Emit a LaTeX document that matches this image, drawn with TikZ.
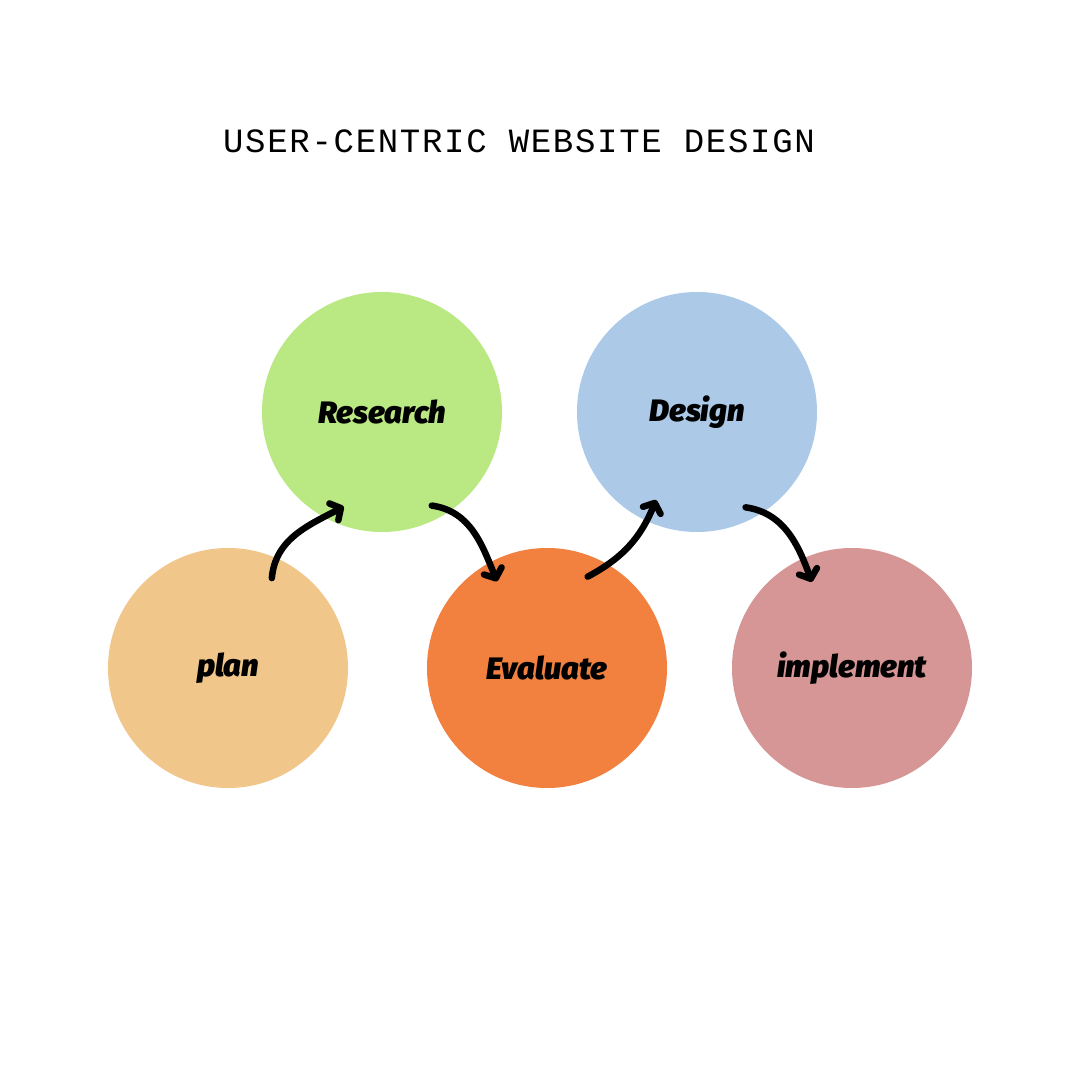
\documentclass[tikz,border=0pt]{standalone}
\usepackage{fontspec}
\setmainfont{Fira Sans}
\newfontfamily\titlefont{Liberation Mono}
\newfontfamily\labelfont{Fira Sans Black Italic}
\usepackage{tikz}
\usetikzlibrary{positioning, arrows.meta, calc}

\definecolor{planC}{HTML}{F0C68A}
\definecolor{researchC}{HTML}{BAE882}
\definecolor{evaluateC}{HTML}{F2803E}
\definecolor{designC}{HTML}{ACCAE8}
\definecolor{implementC}{HTML}{D69696}

\begin{document}
\begin{tikzpicture}[x=1pt, y=1pt, on grid,
    blob/.style={circle, minimum size=240pt, inner sep=0pt,
        font=\labelfont\fontsize{31}{31}\selectfont},
    flow/.style={line width=6.5pt, line cap=round,
        -{Straight Barb[length=8pt, width=19pt, round]}}]
    \useasboundingbox[fill=white] (0,0) rectangle (1080,1080);

    \node[font=\titlefont\fontsize{34}{34}\selectfont\addfontfeatures{LetterSpace=5}] (title) at (519,939) {USER-CENTRIC WEBSITE DESIGN};

    \node[blob, fill=planC] (plan) at (228,412) {plan};
    \node[blob, fill=researchC, above right=256pt and 154pt of plan] (research) {Research};
    \node[blob, fill=evaluateC, below right=256pt and 165pt of research] (evaluate) {Evaluate};
    \node[blob, fill=designC, above right=256pt and 150pt of evaluate] (design) {Design};
    \node[blob, fill=implementC, below right=256pt and 155pt of design] (implement) {implement};

    \coordinate (p1) at ($(plan.center)+(64:100)$);
    \coordinate (r1) at ($(research.center)+(248:102)$);
    \coordinate (r2) at ($(research.center)+(-62:106)$);
    \coordinate (e1) at ($(evaluate.center)+(120:100)$);
    \coordinate (e2) at ($(evaluate.center)+(66:100)$);
    \coordinate (d1) at ($(design.center)+(245:97)$);
    \coordinate (d2) at ($(design.center)+(-63:107)$);
    \coordinate (i1) at ($(implement.center)+(115:95)$);

    \draw
        (p1) edge[flow, out=85, in=208] (r1)
        (r2) edge[flow, out=-8, in=112] (e1)
        (e2) edge[flow, out=28, in=-112] (d1)
        (d2) edge[flow, out=-8, in=110] (i1)
        ;
\end{tikzpicture}
\end{document}
